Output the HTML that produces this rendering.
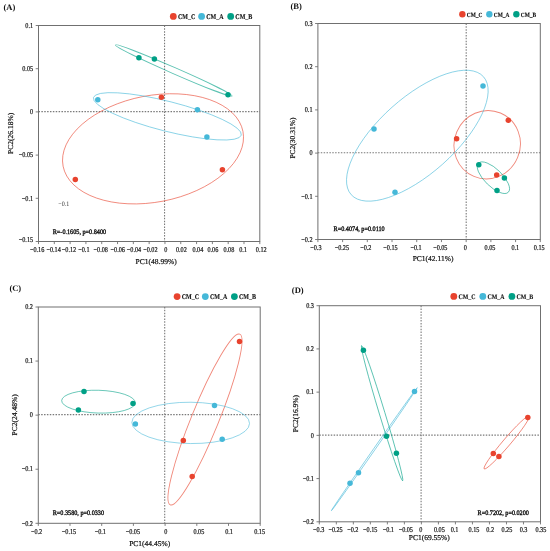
<!DOCTYPE html><html><head><meta charset="utf-8"><title>PCA</title><style>html,body{margin:0;padding:0;background:#fff;overflow:hidden}svg{display:block;will-change:transform}text{font-family:"Liberation Serif",serif;text-rendering:geometricPrecision}</style></head><body>
<svg width="550" height="551" viewBox="0 0 550 551">
<rect width="550" height="551" fill="#fff"/>
<line x1="38.5" y1="111.65" x2="259.8" y2="111.65" stroke="#7a7a7a" stroke-width="1.1" stroke-dasharray="1.5 1.37"/>
<line x1="164.55" y1="25.5" x2="164.55" y2="241.5" stroke="#7a7a7a" stroke-width="1.1" stroke-dasharray="1.5 1.37"/>
<ellipse cx="153.03" cy="148.83" rx="91.60" ry="53.26" transform="rotate(169.09 153.03 148.83)" fill="none" stroke="#E8432E" stroke-width="0.9" stroke-opacity="0.64"/>
<ellipse cx="167.37" cy="116.33" rx="76.27" ry="14.89" transform="rotate(-165.74 167.37 116.33)" fill="none" stroke="#45B8D8" stroke-width="0.9" stroke-opacity="0.64"/>
<ellipse cx="173.77" cy="70.50" rx="63.63" ry="3.05" transform="rotate(-156.35 173.77 70.50)" fill="none" stroke="#00A086" stroke-width="0.9" stroke-opacity="0.64"/>
<circle cx="161.4" cy="97.2" r="2.75" fill="#E8432E"/>
<circle cx="75.3" cy="179.6" r="2.75" fill="#E8432E"/>
<circle cx="222.4" cy="169.7" r="2.75" fill="#E8432E"/>
<circle cx="97.8" cy="99.7" r="2.75" fill="#45B8D8"/>
<circle cx="197.4" cy="109.8" r="2.75" fill="#45B8D8"/>
<circle cx="206.9" cy="137.1" r="2.75" fill="#45B8D8"/>
<circle cx="138.9" cy="57.7" r="2.75" fill="#00A086"/>
<circle cx="154.4" cy="59.1" r="2.75" fill="#00A086"/>
<circle cx="228" cy="94.7" r="2.75" fill="#00A086"/>
<rect x="38.5" y="25.5" width="221.30" height="216.00" fill="none" stroke="#707070" stroke-width="1"/>
<line x1="38.50" y1="241.5" x2="38.50" y2="244.1" stroke="#707070" stroke-width="0.9"/>
<text transform="translate(37.10 252.20) scale(1 1.2)" font-size="6.2" text-anchor="middle" fill="#1a1a1a" stroke="#1a1a1a" stroke-width="0.2">−0.16</text>
<line x1="54.31" y1="241.5" x2="54.31" y2="244.1" stroke="#707070" stroke-width="0.9"/>
<text transform="translate(53.60 252.20) scale(1 1.2)" font-size="6.2" text-anchor="middle" fill="#1a1a1a" stroke="#1a1a1a" stroke-width="0.2">−0.14</text>
<line x1="70.11" y1="241.5" x2="70.11" y2="244.1" stroke="#707070" stroke-width="0.9"/>
<text transform="translate(69.00 252.20) scale(1 1.2)" font-size="6.2" text-anchor="middle" fill="#1a1a1a" stroke="#1a1a1a" stroke-width="0.2">−0.12</text>
<line x1="85.92" y1="241.5" x2="85.92" y2="244.1" stroke="#707070" stroke-width="0.9"/>
<text transform="translate(83.90 252.20) scale(1 1.2)" font-size="6.2" text-anchor="middle" fill="#1a1a1a" stroke="#1a1a1a" stroke-width="0.2">−0.1</text>
<line x1="101.73" y1="241.5" x2="101.73" y2="244.1" stroke="#707070" stroke-width="0.9"/>
<text transform="translate(100.70 252.20) scale(1 1.2)" font-size="6.2" text-anchor="middle" fill="#1a1a1a" stroke="#1a1a1a" stroke-width="0.2">−0.08</text>
<line x1="117.54" y1="241.5" x2="117.54" y2="244.1" stroke="#707070" stroke-width="0.9"/>
<text transform="translate(117.70 252.20) scale(1 1.2)" font-size="6.2" text-anchor="middle" fill="#1a1a1a" stroke="#1a1a1a" stroke-width="0.2">−0.06</text>
<line x1="133.34" y1="241.5" x2="133.34" y2="244.1" stroke="#707070" stroke-width="0.9"/>
<text transform="translate(134.00 252.20) scale(1 1.2)" font-size="6.2" text-anchor="middle" fill="#1a1a1a" stroke="#1a1a1a" stroke-width="0.2">−0.04</text>
<line x1="149.15" y1="241.5" x2="149.15" y2="244.1" stroke="#707070" stroke-width="0.9"/>
<text transform="translate(150.40 252.20) scale(1 1.2)" font-size="6.2" text-anchor="middle" fill="#1a1a1a" stroke="#1a1a1a" stroke-width="0.2">−0.02</text>
<line x1="164.96" y1="241.5" x2="164.96" y2="244.1" stroke="#707070" stroke-width="0.9"/>
<text transform="translate(165.90 252.20) scale(1 1.2)" font-size="6.2" text-anchor="middle" fill="#1a1a1a" stroke="#1a1a1a" stroke-width="0.2">0</text>
<line x1="180.76" y1="241.5" x2="180.76" y2="244.1" stroke="#707070" stroke-width="0.9"/>
<text transform="translate(181.30 252.20) scale(1 1.2)" font-size="6.2" text-anchor="middle" fill="#1a1a1a" stroke="#1a1a1a" stroke-width="0.2">0.02</text>
<line x1="196.57" y1="241.5" x2="196.57" y2="244.1" stroke="#707070" stroke-width="0.9"/>
<text transform="translate(197.80 252.20) scale(1 1.2)" font-size="6.2" text-anchor="middle" fill="#1a1a1a" stroke="#1a1a1a" stroke-width="0.2">0.04</text>
<line x1="212.38" y1="241.5" x2="212.38" y2="244.1" stroke="#707070" stroke-width="0.9"/>
<text transform="translate(212.80 252.20) scale(1 1.2)" font-size="6.2" text-anchor="middle" fill="#1a1a1a" stroke="#1a1a1a" stroke-width="0.2">0.06</text>
<line x1="228.19" y1="241.5" x2="228.19" y2="244.1" stroke="#707070" stroke-width="0.9"/>
<text transform="translate(228.80 252.20) scale(1 1.2)" font-size="6.2" text-anchor="middle" fill="#1a1a1a" stroke="#1a1a1a" stroke-width="0.2">0.08</text>
<line x1="243.99" y1="241.5" x2="243.99" y2="244.1" stroke="#707070" stroke-width="0.9"/>
<text transform="translate(243.00 252.20) scale(1 1.2)" font-size="6.2" text-anchor="middle" fill="#1a1a1a" stroke="#1a1a1a" stroke-width="0.2">0.1</text>
<line x1="259.80" y1="241.5" x2="259.80" y2="244.1" stroke="#707070" stroke-width="0.9"/>
<text transform="translate(261.20 252.20) scale(1 1.2)" font-size="6.2" text-anchor="middle" fill="#1a1a1a" stroke="#1a1a1a" stroke-width="0.2">0.12</text>
<line x1="35.7" y1="25.50" x2="38.5" y2="25.50" stroke="#707070" stroke-width="0.9"/>
<text transform="translate(33.10 27.70) scale(1 1.2)" font-size="6.2" text-anchor="end" fill="#1a1a1a" stroke="#1a1a1a" stroke-width="0.2">0.1</text>
<line x1="35.7" y1="68.70" x2="38.5" y2="68.70" stroke="#707070" stroke-width="0.9"/>
<text transform="translate(33.10 70.90) scale(1 1.2)" font-size="6.2" text-anchor="end" fill="#1a1a1a" stroke="#1a1a1a" stroke-width="0.2">0.05</text>
<line x1="35.7" y1="111.90" x2="38.5" y2="111.90" stroke="#707070" stroke-width="0.9"/>
<text transform="translate(33.10 114.10) scale(1 1.2)" font-size="6.2" text-anchor="end" fill="#1a1a1a" stroke="#1a1a1a" stroke-width="0.2">0</text>
<line x1="35.7" y1="155.10" x2="38.5" y2="155.10" stroke="#707070" stroke-width="0.9"/>
<text transform="translate(33.10 157.30) scale(1 1.2)" font-size="6.2" text-anchor="end" fill="#1a1a1a" stroke="#1a1a1a" stroke-width="0.2">−0.05</text>
<line x1="35.7" y1="198.30" x2="38.5" y2="198.30" stroke="#707070" stroke-width="0.9"/>
<text transform="translate(33.10 200.50) scale(1 1.2)" font-size="6.2" text-anchor="end" fill="#1a1a1a" stroke="#1a1a1a" stroke-width="0.2">−0.1</text>
<line x1="35.7" y1="241.50" x2="38.5" y2="241.50" stroke="#707070" stroke-width="0.9"/>
<text transform="translate(33.10 242.40) scale(1 1.2)" font-size="6.2" text-anchor="end" fill="#1a1a1a" stroke="#1a1a1a" stroke-width="0.2">−0.15</text>
<text transform="translate(156.10 263.50)" font-size="7.5" text-anchor="middle" fill="#111" stroke="#111" stroke-width="0.2">PC1(48.99%)</text>
<text transform="translate(12.80 133.40) rotate(-90)" font-size="7.5" text-anchor="middle" fill="#111" stroke="#111" stroke-width="0.2">PC2(26.18%)</text>
<text transform="translate(3.50 9.70)" font-size="8.5" font-weight="bold" fill="#111">(A)</text>
<circle cx="173.3" cy="16.45" r="3.4" fill="#E8432E"/>
<text transform="translate(177.90 18.90) scale(1 1.18)" font-size="6.0" font-weight="bold" fill="#111" stroke="#111" stroke-width="0.12">CM_C</text>
<circle cx="201.6" cy="16.45" r="3.4" fill="#45B8D8"/>
<text transform="translate(206.20 18.90) scale(1 1.18)" font-size="6.0" font-weight="bold" fill="#111" stroke="#111" stroke-width="0.12">CM_A</text>
<circle cx="230.7" cy="16.45" r="3.4" fill="#00A086"/>
<text transform="translate(235.30 18.90) scale(1 1.18)" font-size="6.0" font-weight="bold" fill="#111" stroke="#111" stroke-width="0.12">CM_B</text>
<text transform="translate(52.70 233.70) scale(1 1.1)" font-size="6.2" fill="#111" stroke="#111" stroke-width="0.32">R=-0.1605, p=0.8400</text>
<line x1="317.9" y1="152.80" x2="540.3" y2="152.80" stroke="#7a7a7a" stroke-width="1.1" stroke-dasharray="1.5 1.37"/>
<line x1="466.20" y1="23.5" x2="466.20" y2="239.5" stroke="#7a7a7a" stroke-width="1.1" stroke-dasharray="1.5 1.37"/>
<ellipse cx="487.20" cy="144.70" rx="34.35" ry="33.02" transform="rotate(112.70 487.20 144.70)" fill="none" stroke="#E8432E" stroke-width="0.9" stroke-opacity="0.64"/>
<ellipse cx="417.33" cy="135.70" rx="88.62" ry="38.08" transform="rotate(138.27 417.33 135.70)" fill="none" stroke="#45B8D8" stroke-width="0.9" stroke-opacity="0.64"/>
<ellipse cx="493.40" cy="177.70" rx="20.82" ry="8.74" transform="rotate(-135.86 493.40 177.70)" fill="none" stroke="#00A086" stroke-width="0.9" stroke-opacity="0.64"/>
<circle cx="456.6" cy="138.7" r="2.75" fill="#E8432E"/>
<circle cx="508.3" cy="120.3" r="2.75" fill="#E8432E"/>
<circle cx="496.7" cy="175.1" r="2.75" fill="#E8432E"/>
<circle cx="374" cy="129" r="2.75" fill="#45B8D8"/>
<circle cx="483" cy="85.9" r="2.75" fill="#45B8D8"/>
<circle cx="395" cy="192.2" r="2.75" fill="#45B8D8"/>
<circle cx="478.8" cy="164.7" r="2.75" fill="#00A086"/>
<circle cx="504.4" cy="177.9" r="2.75" fill="#00A086"/>
<circle cx="497" cy="190.5" r="2.75" fill="#00A086"/>
<rect x="317.9" y="23.5" width="222.40" height="216.00" fill="none" stroke="#707070" stroke-width="1"/>
<line x1="317.90" y1="239.5" x2="317.90" y2="242.1" stroke="#707070" stroke-width="0.9"/>
<text transform="translate(315.90 250.00) scale(1 1.2)" font-size="6.2" text-anchor="middle" fill="#1a1a1a" stroke="#1a1a1a" stroke-width="0.2">−0.3</text>
<line x1="342.61" y1="239.5" x2="342.61" y2="242.1" stroke="#707070" stroke-width="0.9"/>
<text transform="translate(341.90 250.00) scale(1 1.2)" font-size="6.2" text-anchor="middle" fill="#1a1a1a" stroke="#1a1a1a" stroke-width="0.2">−0.25</text>
<line x1="367.32" y1="239.5" x2="367.32" y2="242.1" stroke="#707070" stroke-width="0.9"/>
<text transform="translate(365.80 250.00) scale(1 1.2)" font-size="6.2" text-anchor="middle" fill="#1a1a1a" stroke="#1a1a1a" stroke-width="0.2">−0.2</text>
<line x1="392.03" y1="239.5" x2="392.03" y2="242.1" stroke="#707070" stroke-width="0.9"/>
<text transform="translate(390.50 250.00) scale(1 1.2)" font-size="6.2" text-anchor="middle" fill="#1a1a1a" stroke="#1a1a1a" stroke-width="0.2">−0.15</text>
<line x1="416.74" y1="239.5" x2="416.74" y2="242.1" stroke="#707070" stroke-width="0.9"/>
<text transform="translate(416.00 250.00) scale(1 1.2)" font-size="6.2" text-anchor="middle" fill="#1a1a1a" stroke="#1a1a1a" stroke-width="0.2">−0.1</text>
<line x1="441.46" y1="239.5" x2="441.46" y2="242.1" stroke="#707070" stroke-width="0.9"/>
<text transform="translate(440.30 250.00) scale(1 1.2)" font-size="6.2" text-anchor="middle" fill="#1a1a1a" stroke="#1a1a1a" stroke-width="0.2">−0.05</text>
<line x1="466.17" y1="239.5" x2="466.17" y2="242.1" stroke="#707070" stroke-width="0.9"/>
<text transform="translate(465.40 250.00) scale(1 1.2)" font-size="6.2" text-anchor="middle" fill="#1a1a1a" stroke="#1a1a1a" stroke-width="0.2">0</text>
<line x1="490.88" y1="239.5" x2="490.88" y2="242.1" stroke="#707070" stroke-width="0.9"/>
<text transform="translate(490.00 250.00) scale(1 1.2)" font-size="6.2" text-anchor="middle" fill="#1a1a1a" stroke="#1a1a1a" stroke-width="0.2">0.05</text>
<line x1="515.59" y1="239.5" x2="515.59" y2="242.1" stroke="#707070" stroke-width="0.9"/>
<text transform="translate(515.30 250.00) scale(1 1.2)" font-size="6.2" text-anchor="middle" fill="#1a1a1a" stroke="#1a1a1a" stroke-width="0.2">0.1</text>
<line x1="540.30" y1="239.5" x2="540.30" y2="242.1" stroke="#707070" stroke-width="0.9"/>
<text transform="translate(539.20 250.00) scale(1 1.2)" font-size="6.2" text-anchor="middle" fill="#1a1a1a" stroke="#1a1a1a" stroke-width="0.2">0.15</text>
<line x1="315.09999999999997" y1="23.50" x2="317.9" y2="23.50" stroke="#707070" stroke-width="0.9"/>
<text transform="translate(312.50 25.70) scale(1 1.2)" font-size="6.2" text-anchor="end" fill="#1a1a1a" stroke="#1a1a1a" stroke-width="0.2">0.3</text>
<line x1="315.09999999999997" y1="66.70" x2="317.9" y2="66.70" stroke="#707070" stroke-width="0.9"/>
<text transform="translate(312.50 68.90) scale(1 1.2)" font-size="6.2" text-anchor="end" fill="#1a1a1a" stroke="#1a1a1a" stroke-width="0.2">0.2</text>
<line x1="315.09999999999997" y1="109.90" x2="317.9" y2="109.90" stroke="#707070" stroke-width="0.9"/>
<text transform="translate(312.50 112.10) scale(1 1.2)" font-size="6.2" text-anchor="end" fill="#1a1a1a" stroke="#1a1a1a" stroke-width="0.2">0.1</text>
<line x1="315.09999999999997" y1="153.10" x2="317.9" y2="153.10" stroke="#707070" stroke-width="0.9"/>
<text transform="translate(312.50 155.30) scale(1 1.2)" font-size="6.2" text-anchor="end" fill="#1a1a1a" stroke="#1a1a1a" stroke-width="0.2">0</text>
<line x1="315.09999999999997" y1="196.30" x2="317.9" y2="196.30" stroke="#707070" stroke-width="0.9"/>
<text transform="translate(312.50 198.50) scale(1 1.2)" font-size="6.2" text-anchor="end" fill="#1a1a1a" stroke="#1a1a1a" stroke-width="0.2">−0.1</text>
<line x1="315.09999999999997" y1="239.50" x2="317.9" y2="239.50" stroke="#707070" stroke-width="0.9"/>
<text transform="translate(312.50 241.70) scale(1 1.2)" font-size="6.2" text-anchor="end" fill="#1a1a1a" stroke="#1a1a1a" stroke-width="0.2">−0.2</text>
<text transform="translate(433.00 261.20)" font-size="7.5" text-anchor="middle" fill="#111" stroke="#111" stroke-width="0.2">PC1(42.11%)</text>
<text transform="translate(295.40 138.10) rotate(-90)" font-size="7.5" text-anchor="middle" fill="#111" stroke="#111" stroke-width="0.2">PC2(30.31%)</text>
<text transform="translate(290.50 8.50)" font-size="8.5" font-weight="bold" fill="#111">(B)</text>
<circle cx="462.35" cy="14.25" r="3.2" fill="#E8432E"/>
<text transform="translate(466.75 16.70) scale(1 1.18)" font-size="5.4" font-weight="bold" fill="#111" stroke="#111" stroke-width="0.12">CM_C</text>
<circle cx="489.35" cy="14.25" r="3.2" fill="#45B8D8"/>
<text transform="translate(493.75 16.70) scale(1 1.18)" font-size="5.4" font-weight="bold" fill="#111" stroke="#111" stroke-width="0.12">CM_A</text>
<circle cx="516.35" cy="14.25" r="3.2" fill="#00A086"/>
<text transform="translate(520.75 16.70) scale(1 1.18)" font-size="5.4" font-weight="bold" fill="#111" stroke="#111" stroke-width="0.12">CM_B</text>
<text transform="translate(333.60 231.20) scale(1 1.1)" font-size="6.2" fill="#111" stroke="#111" stroke-width="0.32">R=0.4074, p=0.0110</text>
<line x1="38.3" y1="414.60" x2="260.2" y2="414.60" stroke="#7a7a7a" stroke-width="1.1" stroke-dasharray="1.5 1.37"/>
<line x1="164.70" y1="307.0" x2="164.70" y2="523.3" stroke="#7a7a7a" stroke-width="1.1" stroke-dasharray="1.5 1.37"/>
<ellipse cx="205.00" cy="419.50" rx="92.16" ry="13.61" transform="rotate(112.17 205.00 419.50)" fill="none" stroke="#E8432E" stroke-width="0.9" stroke-opacity="0.64"/>
<ellipse cx="190.70" cy="422.90" rx="58.84" ry="20.66" transform="rotate(-179.46 190.70 422.90)" fill="none" stroke="#45B8D8" stroke-width="0.9" stroke-opacity="0.64"/>
<ellipse cx="98.47" cy="401.67" rx="36.80" ry="11.40" transform="rotate(-178.29 98.47 401.67)" fill="none" stroke="#00A086" stroke-width="0.9" stroke-opacity="0.64"/>
<circle cx="239.5" cy="341.6" r="2.75" fill="#E8432E"/>
<circle cx="183.3" cy="440.5" r="2.75" fill="#E8432E"/>
<circle cx="192.2" cy="476.4" r="2.75" fill="#E8432E"/>
<circle cx="214.5" cy="405.5" r="2.75" fill="#45B8D8"/>
<circle cx="135.4" cy="424" r="2.75" fill="#45B8D8"/>
<circle cx="222.2" cy="439.2" r="2.75" fill="#45B8D8"/>
<circle cx="84" cy="391.5" r="2.75" fill="#00A086"/>
<circle cx="78.4" cy="409.9" r="2.75" fill="#00A086"/>
<circle cx="133" cy="403.6" r="2.75" fill="#00A086"/>
<rect x="38.3" y="307.0" width="221.90" height="216.30" fill="none" stroke="#707070" stroke-width="1"/>
<line x1="38.30" y1="523.3" x2="38.30" y2="525.9" stroke="#707070" stroke-width="0.9"/>
<text transform="translate(36.50 533.90) scale(1 1.2)" font-size="6.2" text-anchor="middle" fill="#1a1a1a" stroke="#1a1a1a" stroke-width="0.2">−0.2</text>
<line x1="70.00" y1="523.3" x2="70.00" y2="525.9" stroke="#707070" stroke-width="0.9"/>
<text transform="translate(69.00 533.90) scale(1 1.2)" font-size="6.2" text-anchor="middle" fill="#1a1a1a" stroke="#1a1a1a" stroke-width="0.2">−0.15</text>
<line x1="101.70" y1="523.3" x2="101.70" y2="525.9" stroke="#707070" stroke-width="0.9"/>
<text transform="translate(100.30 533.90) scale(1 1.2)" font-size="6.2" text-anchor="middle" fill="#1a1a1a" stroke="#1a1a1a" stroke-width="0.2">−0.1</text>
<line x1="133.40" y1="523.3" x2="133.40" y2="525.9" stroke="#707070" stroke-width="0.9"/>
<text transform="translate(132.90 533.90) scale(1 1.2)" font-size="6.2" text-anchor="middle" fill="#1a1a1a" stroke="#1a1a1a" stroke-width="0.2">−0.05</text>
<line x1="165.10" y1="523.3" x2="165.10" y2="525.9" stroke="#707070" stroke-width="0.9"/>
<text transform="translate(165.85 533.90) scale(1 1.2)" font-size="6.2" text-anchor="middle" fill="#1a1a1a" stroke="#1a1a1a" stroke-width="0.2">0</text>
<line x1="196.80" y1="523.3" x2="196.80" y2="525.9" stroke="#707070" stroke-width="0.9"/>
<text transform="translate(198.80 533.90) scale(1 1.2)" font-size="6.2" text-anchor="middle" fill="#1a1a1a" stroke="#1a1a1a" stroke-width="0.2">0.05</text>
<line x1="228.50" y1="523.3" x2="228.50" y2="525.9" stroke="#707070" stroke-width="0.9"/>
<text transform="translate(229.00 533.90) scale(1 1.2)" font-size="6.2" text-anchor="middle" fill="#1a1a1a" stroke="#1a1a1a" stroke-width="0.2">0.1</text>
<line x1="260.20" y1="523.3" x2="260.20" y2="525.9" stroke="#707070" stroke-width="0.9"/>
<text transform="translate(259.60 533.90) scale(1 1.2)" font-size="6.2" text-anchor="middle" fill="#1a1a1a" stroke="#1a1a1a" stroke-width="0.2">0.15</text>
<line x1="35.5" y1="307.00" x2="38.3" y2="307.00" stroke="#707070" stroke-width="0.9"/>
<text transform="translate(32.90 309.20) scale(1 1.2)" font-size="6.2" text-anchor="end" fill="#1a1a1a" stroke="#1a1a1a" stroke-width="0.2">0.2</text>
<line x1="35.5" y1="361.07" x2="38.3" y2="361.07" stroke="#707070" stroke-width="0.9"/>
<text transform="translate(32.90 363.27) scale(1 1.2)" font-size="6.2" text-anchor="end" fill="#1a1a1a" stroke="#1a1a1a" stroke-width="0.2">0.1</text>
<line x1="35.5" y1="415.15" x2="38.3" y2="415.15" stroke="#707070" stroke-width="0.9"/>
<text transform="translate(32.90 417.35) scale(1 1.2)" font-size="6.2" text-anchor="end" fill="#1a1a1a" stroke="#1a1a1a" stroke-width="0.2">0</text>
<line x1="35.5" y1="469.23" x2="38.3" y2="469.23" stroke="#707070" stroke-width="0.9"/>
<text transform="translate(32.90 471.43) scale(1 1.2)" font-size="6.2" text-anchor="end" fill="#1a1a1a" stroke="#1a1a1a" stroke-width="0.2">−0.1</text>
<line x1="35.5" y1="523.30" x2="38.3" y2="523.30" stroke="#707070" stroke-width="0.9"/>
<text transform="translate(32.90 525.50) scale(1 1.2)" font-size="6.2" text-anchor="end" fill="#1a1a1a" stroke="#1a1a1a" stroke-width="0.2">−0.2</text>
<text transform="translate(149.70 545.50)" font-size="7.5" text-anchor="middle" fill="#111" stroke="#111" stroke-width="0.2">PC1(44.45%)</text>
<text transform="translate(17.40 414.90) rotate(-90)" font-size="7.5" text-anchor="middle" fill="#111" stroke="#111" stroke-width="0.2">PC2(24.48%)</text>
<text transform="translate(9.40 290.60)" font-size="8.5" font-weight="bold" fill="#111">(C)</text>
<circle cx="177.1" cy="296.55" r="3.4" fill="#E8432E"/>
<text transform="translate(181.70 299.00) scale(1 1.18)" font-size="6.0" font-weight="bold" fill="#111" stroke="#111" stroke-width="0.12">CM_C</text>
<circle cx="205.3" cy="296.55" r="3.4" fill="#45B8D8"/>
<text transform="translate(209.90 299.00) scale(1 1.18)" font-size="6.0" font-weight="bold" fill="#111" stroke="#111" stroke-width="0.12">CM_A</text>
<circle cx="234.4" cy="296.55" r="3.4" fill="#00A086"/>
<text transform="translate(239.00 299.00) scale(1 1.18)" font-size="6.0" font-weight="bold" fill="#111" stroke="#111" stroke-width="0.12">CM_B</text>
<text transform="translate(52.70 514.70) scale(1 1.1)" font-size="6.2" fill="#111" stroke="#111" stroke-width="0.32">R=0.3580, p=0.0330</text>
<line x1="319.3" y1="435.10" x2="540.5" y2="435.10" stroke="#7a7a7a" stroke-width="1.1" stroke-dasharray="1.5 1.37"/>
<line x1="421.10" y1="305.7" x2="421.10" y2="521.8" stroke="#7a7a7a" stroke-width="1.1" stroke-dasharray="1.5 1.37"/>
<ellipse cx="506.67" cy="442.47" rx="34.70" ry="3.76" transform="rotate(130.40 506.67 442.47)" fill="none" stroke="#E8432E" stroke-width="0.9" stroke-opacity="0.64"/>
<ellipse cx="374.33" cy="449.17" rx="75.00" ry="0.80" transform="rotate(124.91 374.33 449.17)" fill="none" stroke="#45B8D8" stroke-width="0.9" stroke-opacity="0.64"/>
<ellipse cx="382.10" cy="413.20" rx="70.68" ry="2.81" transform="rotate(73.08 382.10 413.20)" fill="none" stroke="#00A086" stroke-width="0.9" stroke-opacity="0.64"/>
<circle cx="527.8" cy="417.5" r="2.75" fill="#E8432E"/>
<circle cx="493.3" cy="453.5" r="2.75" fill="#E8432E"/>
<circle cx="498.9" cy="456.4" r="2.75" fill="#E8432E"/>
<circle cx="414.5" cy="391.5" r="2.75" fill="#45B8D8"/>
<circle cx="358.5" cy="472.7" r="2.75" fill="#45B8D8"/>
<circle cx="350" cy="483.3" r="2.75" fill="#45B8D8"/>
<circle cx="363.4" cy="350.2" r="2.75" fill="#00A086"/>
<circle cx="386.5" cy="436.2" r="2.75" fill="#00A086"/>
<circle cx="396.4" cy="453.2" r="2.75" fill="#00A086"/>
<rect x="319.3" y="305.7" width="221.20" height="216.10" fill="none" stroke="#707070" stroke-width="1"/>
<line x1="319.30" y1="521.8" x2="319.30" y2="524.4" stroke="#707070" stroke-width="0.9"/>
<text transform="translate(318.65 532.40) scale(1 1.2)" font-size="6.2" text-anchor="middle" fill="#1a1a1a" stroke="#1a1a1a" stroke-width="0.2">−0.3</text>
<line x1="336.32" y1="521.8" x2="336.32" y2="524.4" stroke="#707070" stroke-width="0.9"/>
<text transform="translate(335.55 532.40) scale(1 1.2)" font-size="6.2" text-anchor="middle" fill="#1a1a1a" stroke="#1a1a1a" stroke-width="0.2">−0.25</text>
<line x1="353.33" y1="521.8" x2="353.33" y2="524.4" stroke="#707070" stroke-width="0.9"/>
<text transform="translate(352.80 532.40) scale(1 1.2)" font-size="6.2" text-anchor="middle" fill="#1a1a1a" stroke="#1a1a1a" stroke-width="0.2">−0.2</text>
<line x1="370.35" y1="521.8" x2="370.35" y2="524.4" stroke="#707070" stroke-width="0.9"/>
<text transform="translate(370.20 532.40) scale(1 1.2)" font-size="6.2" text-anchor="middle" fill="#1a1a1a" stroke="#1a1a1a" stroke-width="0.2">−0.15</text>
<line x1="387.36" y1="521.8" x2="387.36" y2="524.4" stroke="#707070" stroke-width="0.9"/>
<text transform="translate(388.30 532.40) scale(1 1.2)" font-size="6.2" text-anchor="middle" fill="#1a1a1a" stroke="#1a1a1a" stroke-width="0.2">−0.1</text>
<line x1="404.38" y1="521.8" x2="404.38" y2="524.4" stroke="#707070" stroke-width="0.9"/>
<text transform="translate(405.80 532.40) scale(1 1.2)" font-size="6.2" text-anchor="middle" fill="#1a1a1a" stroke="#1a1a1a" stroke-width="0.2">−0.05</text>
<line x1="421.39" y1="521.8" x2="421.39" y2="524.4" stroke="#707070" stroke-width="0.9"/>
<text transform="translate(420.90 532.40) scale(1 1.2)" font-size="6.2" text-anchor="middle" fill="#1a1a1a" stroke="#1a1a1a" stroke-width="0.2">0</text>
<line x1="438.41" y1="521.8" x2="438.41" y2="524.4" stroke="#707070" stroke-width="0.9"/>
<text transform="translate(439.30 532.40) scale(1 1.2)" font-size="6.2" text-anchor="middle" fill="#1a1a1a" stroke="#1a1a1a" stroke-width="0.2">0.05</text>
<line x1="455.42" y1="521.8" x2="455.42" y2="524.4" stroke="#707070" stroke-width="0.9"/>
<text transform="translate(454.50 532.40) scale(1 1.2)" font-size="6.2" text-anchor="middle" fill="#1a1a1a" stroke="#1a1a1a" stroke-width="0.2">0.1</text>
<line x1="472.44" y1="521.8" x2="472.44" y2="524.4" stroke="#707070" stroke-width="0.9"/>
<text transform="translate(473.90 532.40) scale(1 1.2)" font-size="6.2" text-anchor="middle" fill="#1a1a1a" stroke="#1a1a1a" stroke-width="0.2">0.15</text>
<line x1="489.45" y1="521.8" x2="489.45" y2="524.4" stroke="#707070" stroke-width="0.9"/>
<text transform="translate(490.10 532.40) scale(1 1.2)" font-size="6.2" text-anchor="middle" fill="#1a1a1a" stroke="#1a1a1a" stroke-width="0.2">0.2</text>
<line x1="506.47" y1="521.8" x2="506.47" y2="524.4" stroke="#707070" stroke-width="0.9"/>
<text transform="translate(506.80 532.40) scale(1 1.2)" font-size="6.2" text-anchor="middle" fill="#1a1a1a" stroke="#1a1a1a" stroke-width="0.2">0.25</text>
<line x1="523.48" y1="521.8" x2="523.48" y2="524.4" stroke="#707070" stroke-width="0.9"/>
<text transform="translate(523.50 532.40) scale(1 1.2)" font-size="6.2" text-anchor="middle" fill="#1a1a1a" stroke="#1a1a1a" stroke-width="0.2">0.3</text>
<line x1="540.50" y1="521.8" x2="540.50" y2="524.4" stroke="#707070" stroke-width="0.9"/>
<text transform="translate(540.80 532.40) scale(1 1.2)" font-size="6.2" text-anchor="middle" fill="#1a1a1a" stroke="#1a1a1a" stroke-width="0.2">0.35</text>
<line x1="316.5" y1="305.70" x2="319.3" y2="305.70" stroke="#707070" stroke-width="0.9"/>
<text transform="translate(313.90 307.90) scale(1 1.2)" font-size="6.2" text-anchor="end" fill="#1a1a1a" stroke="#1a1a1a" stroke-width="0.2">0.3</text>
<line x1="316.5" y1="348.92" x2="319.3" y2="348.92" stroke="#707070" stroke-width="0.9"/>
<text transform="translate(313.90 351.12) scale(1 1.2)" font-size="6.2" text-anchor="end" fill="#1a1a1a" stroke="#1a1a1a" stroke-width="0.2">0.2</text>
<line x1="316.5" y1="392.14" x2="319.3" y2="392.14" stroke="#707070" stroke-width="0.9"/>
<text transform="translate(313.90 394.34) scale(1 1.2)" font-size="6.2" text-anchor="end" fill="#1a1a1a" stroke="#1a1a1a" stroke-width="0.2">0.1</text>
<line x1="316.5" y1="435.36" x2="319.3" y2="435.36" stroke="#707070" stroke-width="0.9"/>
<text transform="translate(313.90 437.56) scale(1 1.2)" font-size="6.2" text-anchor="end" fill="#1a1a1a" stroke="#1a1a1a" stroke-width="0.2">0</text>
<line x1="316.5" y1="478.58" x2="319.3" y2="478.58" stroke="#707070" stroke-width="0.9"/>
<text transform="translate(313.90 480.78) scale(1 1.2)" font-size="6.2" text-anchor="end" fill="#1a1a1a" stroke="#1a1a1a" stroke-width="0.2">−0.1</text>
<line x1="316.5" y1="521.80" x2="319.3" y2="521.80" stroke="#707070" stroke-width="0.9"/>
<text transform="translate(313.90 524.00) scale(1 1.2)" font-size="6.2" text-anchor="end" fill="#1a1a1a" stroke="#1a1a1a" stroke-width="0.2">−0.2</text>
<text transform="translate(429.30 540.20)" font-size="7.5" text-anchor="middle" fill="#111" stroke="#111" stroke-width="0.2">PC1(69.55%)</text>
<text transform="translate(298.30 413.60) rotate(-90)" font-size="7.5" text-anchor="middle" fill="#111" stroke="#111" stroke-width="0.2">PC2(16.9%)</text>
<text transform="translate(291.80 292.90)" font-size="8.5" font-weight="bold" fill="#111">(D)</text>
<circle cx="453.8" cy="296.45" r="3.4" fill="#E8432E"/>
<text transform="translate(458.50 298.90) scale(1 1.18)" font-size="5.9" font-weight="bold" fill="#111" stroke="#111" stroke-width="0.12">CM_C</text>
<circle cx="482.8" cy="296.45" r="3.4" fill="#45B8D8"/>
<text transform="translate(487.50 298.90) scale(1 1.18)" font-size="5.9" font-weight="bold" fill="#111" stroke="#111" stroke-width="0.12">CM_A</text>
<circle cx="511.9" cy="296.45" r="3.4" fill="#00A086"/>
<text transform="translate(516.60 298.90) scale(1 1.18)" font-size="5.9" font-weight="bold" fill="#111" stroke="#111" stroke-width="0.12">CM_B</text>
<text transform="translate(528.90 514.50) scale(1 1.1)" font-size="6.2" text-anchor="end" fill="#111" stroke="#111" stroke-width="0.32">R=0.7202, p=0.0200</text>
<text transform="translate(58.30 206.40) scale(1 1.15)" font-size="6.0" fill="#333">−0.1</text>
</svg></body></html>
